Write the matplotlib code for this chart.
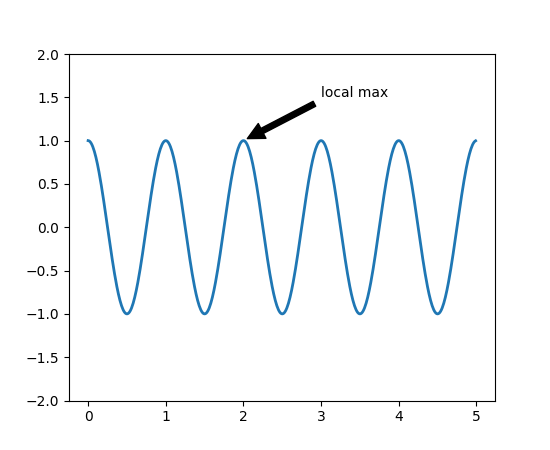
import numpy as np
import matplotlib
matplotlib.use("Agg")
import matplotlib.pyplot as plt

t = np.arange(0.0, 5.0, 0.01)
s = np.cos(2 * np.pi * t)
annot_text = "local max"
annot_xy = (2, 1)
annot_text_xy = (3, 1.5)
ylim = (-2, 2)

fig, ax = plt.subplots(figsize=(5.5, 4.5), dpi=100)
ax.plot(t, s, lw=2)
ax.annotate(annot_text, xy=annot_xy, xytext=annot_text_xy,
            arrowprops=dict(facecolor='black', shrink=0.05))
ax.set_ylim(*ylim)
fig.savefig("out.png")
